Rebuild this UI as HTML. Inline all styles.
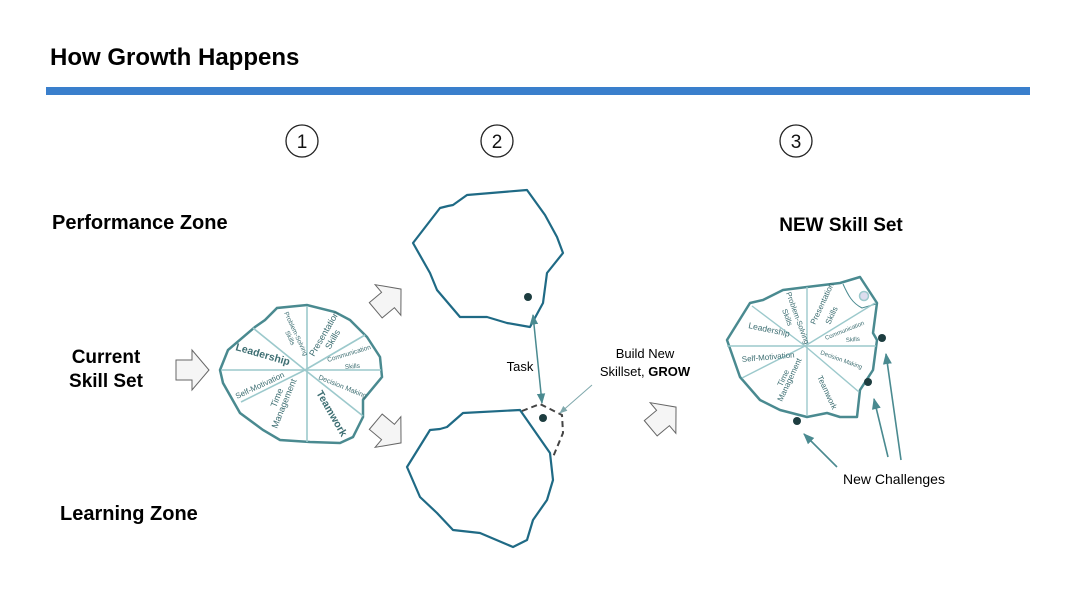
<!DOCTYPE html>
<html><head><meta charset="utf-8"><style>
html,body{margin:0;padding:0;background:#fff;}
body{width:1080px;height:600px;overflow:hidden;font-family:"Liberation Sans",Arial,sans-serif;}
</style></head><body>
<svg width="1080" height="600" viewBox="0 0 1080 600" xmlns="http://www.w3.org/2000/svg" font-family="Liberation Sans, Arial, sans-serif">
<defs>
<marker id="ah" viewBox="0 0 10 10" refX="9" refY="5" markerWidth="7" markerHeight="7" orient="auto-start-reverse"><path d="M0,1 L10,5 L0,9 z" fill="#4a8a90"/></marker>
<marker id="ah2" viewBox="0 0 10 10" refX="9" refY="5" markerWidth="8" markerHeight="8" orient="auto"><path d="M0,1 L10,5 L0,9 z" fill="#7fa8ac"/></marker>
<g id="barrow"><path d="M-16,-10 L0,-10 L0,-20 L17,0 L0,20 L0,10 L-16,10 z" fill="#f5f5f5" stroke="#666" stroke-width="1"/></g>
</defs>
<text x="50" y="65" font-size="24" font-weight="bold" fill="#000">How Growth Happens</text>
<rect x="46" y="87" width="984" height="8" fill="#3a7fcc"/>
<g fill="none" stroke="#222" stroke-width="1.3">
<circle cx="302" cy="141" r="16"/><circle cx="497" cy="141" r="16"/><circle cx="796" cy="141" r="16"/>
</g>
<g font-size="19" text-anchor="middle" fill="#111"><text x="302" y="148">1</text><text x="497" y="148">2</text><text x="796" y="148">3</text></g>
<g font-weight="bold" font-size="20" fill="#000">
<text x="52" y="229">Performance Zone</text>
<text x="106" y="363" text-anchor="middle" font-size="19">Current</text>
<text x="106" y="387" text-anchor="middle" font-size="19">Skill Set</text>
<text x="60" y="520">Learning Zone</text>
<text x="841" y="231" text-anchor="middle" font-size="19">NEW Skill Set</text>
</g>
<use href="#barrow" transform="translate(192,370)"/>
<use href="#barrow" transform="translate(388,300) rotate(-40)"/>
<use href="#barrow" transform="translate(388,432) rotate(40)"/>
<use href="#barrow" transform="translate(663,418) rotate(-40)"/>
<path d="M220,370 L228,350 L255,327 L265,320 L277,308 L307,305 L335,312 L350,320 L367,337 L380,357 L382,377 L363,400 L363,417 L353,437 L340,443 L310,442 L280,440 L263,430 L240,413 L223,383 z" fill="#fff" stroke="#4a8a90" stroke-width="2.5"/>
<g stroke="#9cc9cc" stroke-width="1.6">
<line x1="305" y1="370" x2="221" y2="370"/><line x1="305" y1="370" x2="381" y2="370"/>
<line x1="307" y1="306" x2="307" y2="442"/>
<line x1="305" y1="370" x2="253" y2="328"/><line x1="305" y1="370" x2="365" y2="335"/>
<line x1="305" y1="370" x2="363" y2="416"/><line x1="305" y1="370" x2="241" y2="402"/>
</g>
<g fill="#3d6e72">
<text transform="translate(235,350) rotate(16)" font-size="10.5" font-weight="bold">Leadership</text>
<text transform="translate(284,313) rotate(65)" font-size="6.5">Problem-Solving</text>
<text transform="translate(285,332) rotate(65)" font-size="6.5">Skills</text>
<text transform="translate(314,357) rotate(-60)" font-size="9">Presentation</text>
<text transform="translate(330,350) rotate(-60)" font-size="9">Skills</text>
<text transform="translate(328,362) rotate(-17)" font-size="6.5">Communication</text>
<text transform="translate(345,369) rotate(-5)" font-size="6.5">Skills</text>
<text transform="translate(318,379) rotate(22)" font-size="7">Decision Making</text>
<text transform="translate(237,399) rotate(-25)" font-size="8">Self-Motivation</text>
<text transform="translate(276,408) rotate(-68)" font-size="9">Time</text>
<text transform="translate(277,429) rotate(-68)" font-size="9">Management</text>
<text transform="translate(316,393) rotate(60)" font-size="10.5" font-weight="bold">Teamwork</text>
</g>
<path d="M413,243 L440,208 L448,206 L453,205 L467,195 L527,190 L545,215 L557,237 L563,253 L547,273 L543,303 L530,327 L507,323 L487,317 L460,317 L437,290 L430,273 z" fill="none" stroke="#1f6a85" stroke-width="2.2" stroke-linejoin="round"/>
<circle cx="528" cy="297" r="4" fill="#1d3d40"/>
<path d="M407,467 L430,430 L440,429 L447,427 L463,413 L520,410 L527,420 L550,453 L553,480 L547,500 L533,520 L527,540 L513,547 L480,533 L453,530 L437,513 L420,497 z" fill="none" stroke="#1f6a85" stroke-width="2.2" stroke-linejoin="round"/>
<path d="M522,411 L540,404 L562,415 L563,433 L553,457" fill="none" stroke="#444" stroke-width="2" stroke-dasharray="6,4"/>
<circle cx="543" cy="418" r="4" fill="#1d3d40"/>
<line x1="533" y1="315" x2="542" y2="403" stroke="#4a8a90" stroke-width="1.5" marker-start="url(#ah)" marker-end="url(#ah)"/>
<line x1="592" y1="385" x2="560" y2="413" stroke="#7fa8ac" stroke-width="1" marker-end="url(#ah2)"/>
<text x="520" y="371" font-size="13" text-anchor="middle" fill="#000">Task</text>
<text x="645" y="358" font-size="13" text-anchor="middle" fill="#000">Build New</text>
<text x="645" y="376" font-size="13" text-anchor="middle" fill="#000">Skillset, <tspan font-weight="bold">GROW</tspan></text>
<path d="M727,340 L750,303 L763,300 L783,290 L807,287 L840,283 L860,277 L877,303 L873,333 L877,340 L873,370 L860,390 L857,417 L840,417 L827,413 L807,417 L780,410 L760,400 L740,377 z" fill="#fff" stroke="#4a8a90" stroke-width="2.5" stroke-linejoin="round"/>
<path d="M843,284 C848,295 852,303 862,308 L876,304" fill="none" stroke="#4a8a90" stroke-width="1"/>
<circle cx="864" cy="296" r="4.5" fill="#dde" stroke="#9cc9cc" stroke-width="1.5"/>
<g stroke="#9cc9cc" stroke-width="1.4">
<line x1="727" y1="346" x2="876" y2="346"/><line x1="807" y1="287" x2="807" y2="416"/>
<line x1="805" y1="346" x2="752" y2="306"/><line x1="805" y1="346" x2="875" y2="303"/>
<line x1="805" y1="346" x2="859" y2="392"/><line x1="805" y1="346" x2="742" y2="378"/>
</g>
<g fill="#3d6e72">
<text transform="translate(748,328) rotate(12)" font-size="8.5">Leadership</text>
<text transform="translate(786,293) rotate(70)" font-size="7.5">Problem-Solving</text>
<text transform="translate(782,310) rotate(70)" font-size="7.5">Skills</text>
<text transform="translate(815,325) rotate(-65)" font-size="8">Presentation</text>
<text transform="translate(830,325) rotate(-65)" font-size="8">Skills</text>
<text transform="translate(826,340) rotate(-22)" font-size="6">Communication</text>
<text transform="translate(846,342) rotate(-5)" font-size="6">Skills</text>
<text transform="translate(820,354) rotate(20)" font-size="6">Decision Making</text>
<text transform="translate(742,362) rotate(-5)" font-size="8">Self-Motivation</text>
<text transform="translate(782,387) rotate(-65)" font-size="8">Time</text>
<text transform="translate(782,402) rotate(-65)" font-size="8">Management</text>
<text transform="translate(817,377) rotate(65)" font-size="8">Teamwork</text>
</g>
<circle cx="882" cy="338" r="4" fill="#1d3d40"/>
<circle cx="868" cy="382" r="4" fill="#1d3d40"/>
<circle cx="797" cy="421" r="4" fill="#1d3d40"/>
<g stroke="#4a8a90" stroke-width="1.6">
<line x1="837" y1="467" x2="804" y2="434" marker-end="url(#ah)"/>
<line x1="888" y1="457" x2="874" y2="399" marker-end="url(#ah)"/>
<line x1="901" y1="460" x2="886" y2="354" marker-end="url(#ah)"/>
</g>
<text x="894" y="484" font-size="14" text-anchor="middle" fill="#000">New Challenges</text>
</svg>
</body></html>
